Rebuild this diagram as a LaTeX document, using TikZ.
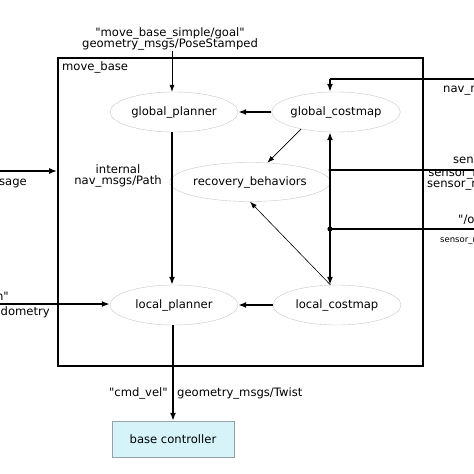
\documentclass[tikz,border=0pt]{standalone}
\usepackage{fontspec}
\newfontfamily\dejavu{DejaVu Sans}
\usetikzlibrary{arrows.meta,shapes.geometric}

\definecolor{ctrlfill}{RGB}{214,243,250}
\definecolor{ctrldraw}{RGB}{150,160,165}

\tikzset{
  pkg/.style={ellipse, draw=black!22, minimum width=128pt, minimum height=40pt, inner sep=0pt},
  ctrlbox/.style={rectangle, draw=ctrldraw, fill=ctrlfill, minimum width=122pt, minimum height=36pt},
  bigarrow/.style={line width=1.8pt, -{Latex[length=8pt,width=6pt]}},
  smallarrow/.style={line width=0.6pt, -{Latex[length=7pt,width=5pt]}},
  wire/.style={line width=1.6pt},
  lbl/.style={inner sep=0pt, align=center}
}

\begin{document}
\begin{tikzpicture}[x=1pt, y=-1pt, font=\dejavu\fontsize{11.6}{11.8}\selectfont]

  \useasboundingbox (0,0) rectangle (474,474);
  \clip (0,0) rectangle (474,474);

  %move_base frame
  \node[draw, line width=1.6pt, minimum width=365pt, minimum height=308pt, inner sep=0pt] (mb) at (240.5,212) {};
  \node[lbl, anchor=north west] (mbname) at (62,61) {move\_base};

  %nodes inside
  \node[pkg] (gp) at (174,112) {global\_planner};
  \node[pkg] (gc) at (336,112) {global\_costmap};
  \node[pkg, minimum width=127pt, minimum height=39pt] (rb) at (250,182) {recovery\_behaviors};
  \node[pkg] (lp) at (174,305) {local\_planner};
  \node[pkg] (lc) at (337,305) {local\_costmap};
  \node[ctrlbox] (bc) at (173,439) {base controller};

  %goal
  \node[lbl] (goal) at (170,39) {"move\_base\_simple/goal"\\geometry\_msgs/PoseStamped};
  \draw[smallarrow] (goal.south -| 172,0) -- (gp.north -| 172,0);

  %planners
  \draw[bigarrow] (gc) -- (gp);
  \draw[bigarrow] (lc) -- (lp);
  \draw[bigarrow] (gp.south -| 172,0) -- (lp.north -| 172,0);
  \node[lbl] (path) at (118,176) {internal\\nav\_msgs/Path};

  %recovery
  \draw[smallarrow] (gc.206) -- (rb.48);
  \draw[smallarrow] (lc.108) -- (rb.south);

  %map in
  \coordinate (mapin) at (480,79);
  \coordinate (jmap) at (330,79);
  \draw[wire] (mapin) -- (jmap);
  \draw[bigarrow] (jmap) -- (jmap |- gc.north);
  \node[lbl, anchor=west] (maplbl) at (443,89) {nav\_msgs/OccupancyGrid};

  %sensor bus
  \coordinate (s1) at (330,170);
  \coordinate (s2) at (330,229);
  \draw[bigarrow] (s1) -- (s1 |- gc.south);
  \draw[bigarrow] (s1) -- (s1 |- lc.north);
  \draw[wire] (480,170) -- (s1);
  \draw[wire] (480,229) -- (s2);
  \fill (s1) circle (1.6pt);
  \fill (s2) circle (2.6pt);
  \node[lbl, anchor=west] (sens) at (453,160) {sensor topics};
  \node[lbl, anchor=west] (laser) at (427,179) {sensor\_msgs/LaserScan\\[-1pt]sensor\_msgs/PointCloud};
  \node[lbl, anchor=west] (obs) at (458,220) {"/obstacles"};
  \node[lbl, anchor=west, font=\dejavu\fontsize{8.5}{9}\selectfont] (obsmsg) at (440,240) {sensor\_msgs/PointCloud};

  %left inputs
  \coordinate (tfin) at (-5,171);
  \draw[bigarrow] (tfin) -- (tfin -| mb.west);
  \node[lbl, anchor=east] (tflbl) at (27,182) {tf/tfMessage};
  \coordinate (odin) at (-5,304);
  \draw[bigarrow] (odin) -- (odin -| lp.west);
  \node[lbl, anchor=east] (odname) at (9,296) {"localization"};
  \node[lbl, anchor=east] (odmsg) at (50,312) {nav\_msgs/Odometry};

  %output
  \draw[bigarrow] (lp.south -| 173,0) -- (bc.north -| 173,0);
  \node[lbl, anchor=east] (cmd) at (168,393) {"cmd\_vel"};
  \node[lbl, anchor=west] (twist) at (177,393) {geometry\_msgs/Twist};

\end{tikzpicture}
\end{document}
